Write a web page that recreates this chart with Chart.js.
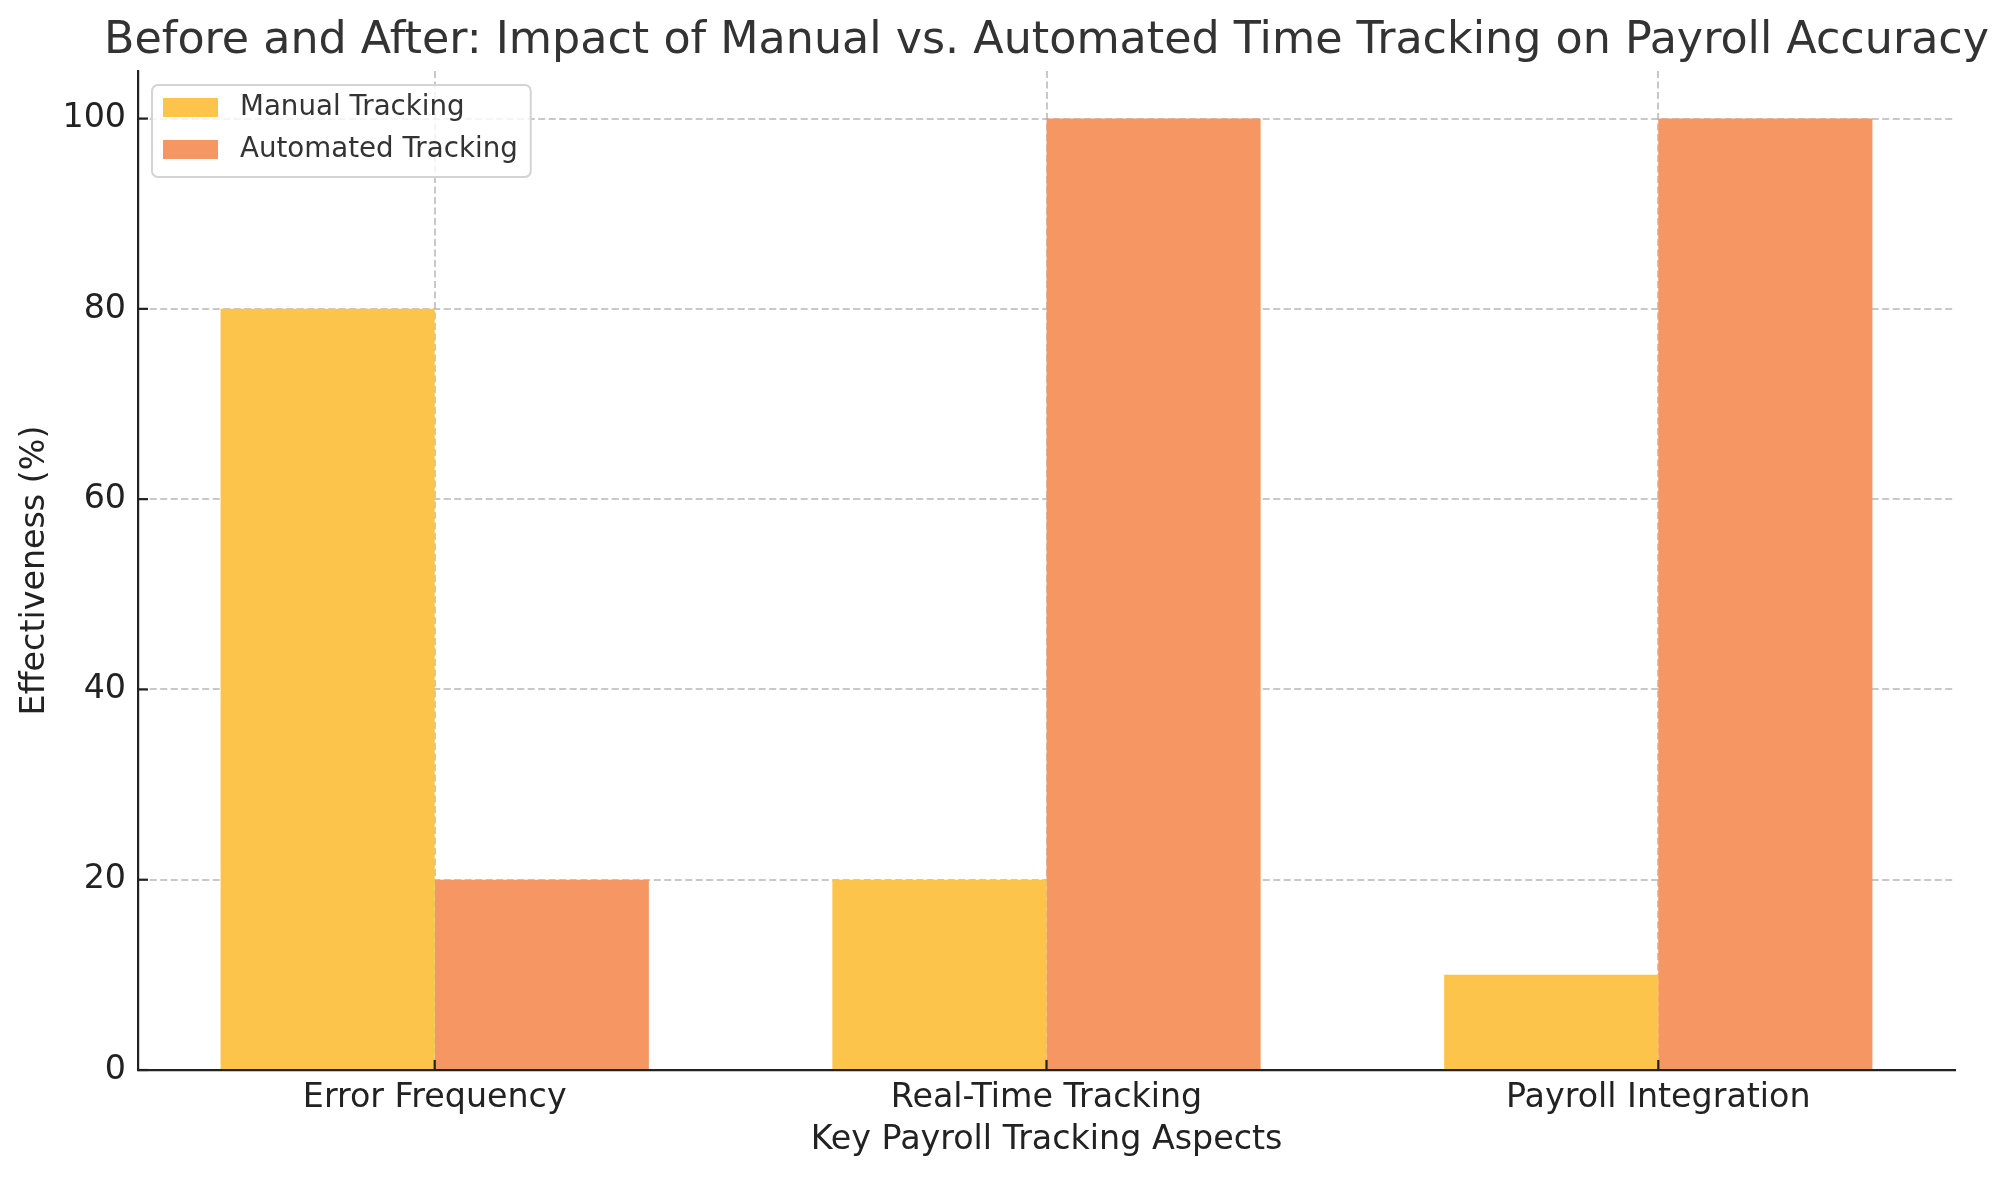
<!DOCTYPE html>
<html>
<head>
<meta charset="utf-8">
<script src="https://cdn.jsdelivr.net/npm/chart.js@4.4.1/dist/chart.umd.min.js"></script>
<style>
html,body{margin:0;padding:0;background:#ffffff;}
#wrap{width:2008px;height:1177px;position:relative;}
canvas{display:block;}
</style>
</head>
<body>
<div id="wrap"><canvas id="c" width="2008" height="1177"></canvas></div>
<script>
const categories = ['Error Frequency', 'Real-Time Tracking', 'Payroll Integration'];
const manualValues = [80, 20, 10];
const automatedValues = [20, 100, 100];
const yTickValues = [0, 20, 40, 60, 80, 100];
const seriesNames = ['Manual Tracking', 'Automated Tracking'];
const seriesColors = ['#FDC44C', '#F69662'];
const titleText = 'Before and After: Impact of Manual vs. Automated Time Tracking on Payroll Accuracy';
const xAxisTitle = 'Key Payroll Tracking Aspects';
const yAxisTitle = 'Effectiveness (%)';

const FONT = "'DejaVu Sans', 'Liberation Sans', sans-serif";
const GRID = 'rgba(176,176,176,0.7)';
const AXIS = '#222222';

const overlay = {
  id: 'overlay',
  afterDatasetsDraw(chart) {
    const {ctx, chartArea: a, scales} = chart;
    ctx.save();
    ctx.strokeStyle = AXIS;
    ctx.lineWidth = 2.2;
    yTickValues.forEach(v => {
      const py = scales.y.getPixelForValue(v);
      ctx.beginPath(); ctx.moveTo(a.left, py); ctx.lineTo(a.left + 10, py); ctx.stroke();
    });
    categories.forEach((c, i) => {
      const px = scales.x.getPixelForValue(i);
      ctx.beginPath(); ctx.moveTo(px, a.bottom); ctx.lineTo(px, a.bottom - 10); ctx.stroke();
    });
    ctx.restore();
  },
  afterDraw(chart) {
    const {ctx, chartArea: a} = chart;
    const ds = chart.data.datasets;
    ctx.save();
    // legend
    ctx.font = "27.7px " + FONT;
    const textW = Math.max(...ds.map(d => ctx.measureText(d.label).width));
    const fx = a.left + 14, fy = a.top + 14;
    const fw = 88 + textW + 13, fh = 92;
    ctx.beginPath();
    ctx.roundRect(fx, fy, fw, fh, 6);
    ctx.fillStyle = 'rgba(255,255,255,0.8)';
    ctx.fill();
    ctx.lineWidth = 2;
    ctx.strokeStyle = '#d3d3d3';
    ctx.stroke();
    ds.forEach((d, i) => {
      const sy = fy + 13 + i * 42;
      ctx.fillStyle = d.backgroundColor;
      ctx.fillRect(fx + 11, sy, 55, 19);
      ctx.fillStyle = '#333333';
      ctx.textAlign = 'left';
      ctx.textBaseline = 'middle';
      ctx.fillText(d.label, fx + 88, sy + 10);
    });
    // title
    ctx.font = "44.4px " + FONT;
    ctx.fillStyle = '#333333';
    ctx.textAlign = 'center';
    ctx.textBaseline = 'middle';
    ctx.fillText(titleText, (a.left + a.right) / 2, 41);
    ctx.restore();
  }
};

new Chart(document.getElementById('c'), {
  type: 'bar',
  data: {
    datasets: [
      {
        label: seriesNames[0],
        data: categories.map((c, i) => ({x: i, y: manualValues[i]})),
        backgroundColor: seriesColors[0],
        borderWidth: 0,
        categoryPercentage: 0.7,
        barPercentage: 1.0
      },
      {
        label: seriesNames[1],
        data: categories.map((c, i) => ({x: i, y: automatedValues[i]})),
        backgroundColor: seriesColors[1],
        borderWidth: 0,
        categoryPercentage: 0.7,
        barPercentage: 1.0
      }
    ]
  },
  options: {
    responsive: false,
    animation: false,
    devicePixelRatio: 1,
    layout: {padding: {top: 71, right: 53, bottom: 0, left: 0}},
    plugins: {
      legend: {display: false},
      title: {display: false},
      tooltip: {enabled: false}
    },
    scales: {
      x: {
        type: 'linear',
        min: -0.485,
        max: 2.485,
        offset: false,
        afterBuildTicks: s => { s.ticks = categories.map((c, i) => ({value: i})); },
        afterFit: s => { s.height = 107; },
        ticks: {
          autoSkip: false,
          maxRotation: 0,
          padding: 8,
          color: '#222222',
          font: {family: FONT, size: 33.3},
          callback: v => categories[v] ?? ''
        },
        grid: {display: true, offset: false, color: GRID, lineWidth: 2, drawTicks: false},
        border: {display: true, color: AXIS, width: 2.2, dash: [7, 3.5]},
        title: {
          display: true, text: xAxisTitle, color: '#222222',
          font: {family: FONT, size: 33.3}, padding: {top: 0, bottom: 17}
        }
      },
      y: {
        type: 'linear',
        min: 0,
        max: 105,
        afterBuildTicks: s => { s.ticks = yTickValues.map(v => ({value: v})); },
        afterFit: s => { s.width = 138; },
        ticks: {
          padding: 12,
          color: '#222222',
          font: {family: FONT, size: 33.3}
        },
        grid: {display: true, color: GRID, lineWidth: 2, drawTicks: false},
        border: {display: true, color: AXIS, width: 2.2, dash: [7, 3.5]},
        title: {
          display: true, text: yAxisTitle, color: '#222222',
          font: {family: FONT, size: 33.3}, padding: {top: 15, bottom: 0}
        }
      }
    }
  },
  plugins: [overlay]
});
</script>
</body>
</html>
